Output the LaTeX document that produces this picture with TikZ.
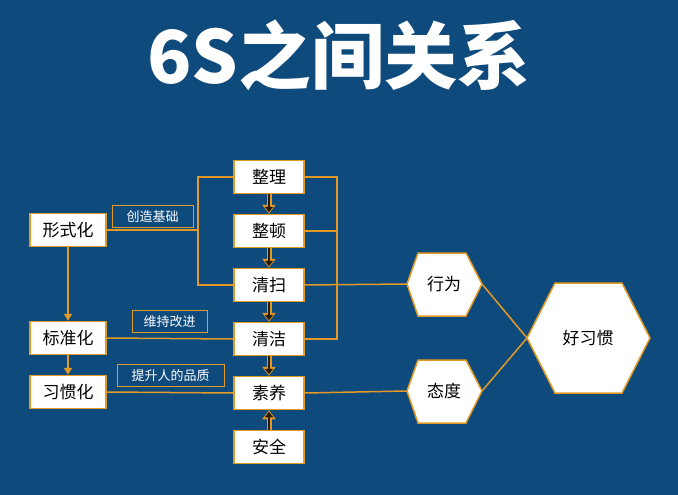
\documentclass[tikz,border=0pt]{standalone}
\usepackage{fontspec}
\setmainfont{Noto Sans CJK SC}
\usetikzlibrary{arrows.meta}
\definecolor{bg}{HTML}{0F4A7C}
\definecolor{org}{HTML}{E39A25}
\definecolor{dk}{HTML}{2A1A08}
\begin{document}
\begin{tikzpicture}[x=1pt,y=-1pt,
  box/.style={draw=org,line width=1.5pt,fill=white,minimum width=70pt,minimum height=33pt,inner sep=0pt,font=\fontsize{17}{17}\selectfont,text=black},
  lbox/.style={box,minimum width=76pt},
  tag/.style={draw=org,line width=0.8pt,fill=bg,minimum height=22pt,inner sep=4pt,font=\fontsize{13}{13}\selectfont,text=white},
  ln/.style={org,line width=1.5pt},
  hexa/.style={draw=org,line width=1.5pt,fill=white},
  dbo/.style={org,line width=5pt,-{Triangle[length=9pt,width=13pt]}},
  dbi/.style={dk,line width=2pt,shorten >=1.5pt,-{Triangle[length=5.5pt,width=8pt]}}]
\fill[bg] (0,0) rectangle (678,495);
\useasboundingbox (0,0) rectangle (678,495);
\node[text=white,font=\fontsize{73}{73}\bfseries\selectfont] (title) at (339,55) {6S之间关系};
% brackets
\draw[ln] (269,177) -- (198,177) -- (198,285) -- (269,285);
\draw[ln] (269,177) -- (337,177) -- (337,339) -- (269,339);
\draw[ln] (269,231) -- (337,231);
% hexagons
\coordinate (xwL) at (407,284); \coordinate (xwR) at (482,284);
\coordinate (tdL) at (407,391); \coordinate (tdR) at (482,391);
\coordinate (hxL) at (527,338);
\draw[ln] (xwR) -- (hxL) -- (tdR);
\draw[hexa] (xwL) -- (418,253) -- (466,253) -- (xwR) -- (466,316) -- (418,316) -- cycle;
\draw[hexa] (tdL) -- (418,360) -- (466,360) -- (tdR) -- (466,423) -- (418,423) -- cycle;
\draw[hexa] (hxL) -- (555,283) -- (622,283) -- (650,338) -- (622,393) -- (555,393) -- cycle;
\node[font=\fontsize{17}{17}\selectfont] (xw) at (444,284) {行为};
\node[font=\fontsize{17}{17}\selectfont] (td) at (444,391) {态度};
\node[font=\fontsize{17}{17}\selectfont] (hx) at (588,338) {好习惯};
% boxes
\node[box] (zl) at (269,177) {整理};
\node[box] (zd) at (269,231) {整顿};
\node[box] (qs) at (269,285) {清扫};
\node[box] (qj) at (269,339) {清洁};
\node[box] (sy) at (269,393) {素养};
\node[box] (aq) at (269,447) {安全};
\node[lbox] (xs) at (68,230) {形式化};
\node[lbox] (bz) at (68,338) {标准化};
\node[lbox] (xg) at (68,392) {习惯化};
% tags
\node[tag,minimum width=81pt] (t1) at (152.5,216.5) {创造基础};
\node[tag,minimum width=75pt] (t2) at (169.5,321.5) {维持改进};
\node[tag,minimum width=107pt] (t3) at (170.5,375.5) {提升人的品质};
% connectors
\draw[ln] (xs.east) -- (198,230);
\draw[ln] (bz.east) -- (qj.west);
\draw[ln] (xg.east) -- (sy.west);
\draw[ln] (qs.east) -- (xwL);
\draw[ln] (sy.east) -- (tdL);
\draw[ln,-{Triangle[length=7pt,width=8pt]}] (xs.south) -- (bz.north);
\draw[ln,-{Triangle[length=7pt,width=8pt]}] (bz.south) -- (xg.north);
% double arrows
\foreach \a/\b in {zl/zd,zd/qs,qs/qj,qj/sy}{
  \draw[dbo] (\a.south) -- (\b.north);
  \draw[dbi] (\a.south) -- (\b.north);
}
\draw[dbo] (aq.north) -- (sy.south);
\draw[dbi] (aq.north) -- (sy.south);
\end{tikzpicture}
\end{document}
